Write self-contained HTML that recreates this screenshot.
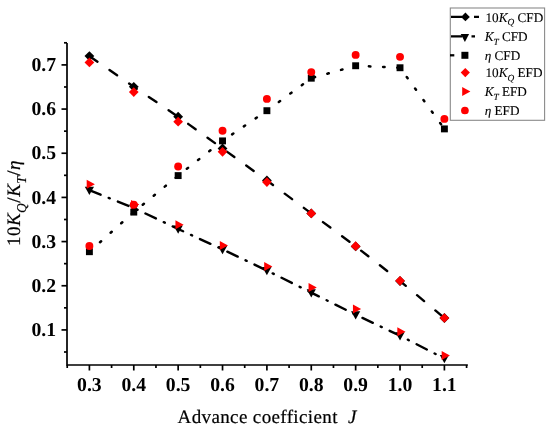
<!DOCTYPE html>
<html><head><meta charset="utf-8"><title>Chart</title>
<style>html,body{margin:0;padding:0;background:#fff;}svg{display:block;}text{text-rendering:geometricPrecision;}</style></head>
<body><svg width="550" height="430" viewBox="0 0 550 430">
<rect width="550" height="430" fill="#fff"/>
<g stroke="#000" stroke-width="1.7" fill="none" stroke-linecap="butt">
<path d="M67.0 43.0V365.85M66.15 365.0H467.85"/>
<path d="M67.0 329.92H61.5"/>
<path d="M67.0 285.75H61.5"/>
<path d="M67.0 241.58H61.5"/>
<path d="M67.0 197.41H61.5"/>
<path d="M67.0 153.24H61.5"/>
<path d="M67.0 109.07H61.5"/>
<path d="M67.0 64.9H61.5"/>
<path d="M67.0 352H64.0"/>
<path d="M67.0 307.83H64.0"/>
<path d="M67.0 263.66H64.0"/>
<path d="M67.0 219.5H64.0"/>
<path d="M67.0 175.32H64.0"/>
<path d="M67.0 131.15H64.0"/>
<path d="M67.0 86.98H64.0"/>
<path d="M67.0 42.81H64.0"/>
<path d="M89.4 365.0V370.5"/>
<path d="M133.78 365.0V370.5"/>
<path d="M178.15 365.0V370.5"/>
<path d="M222.53 365.0V370.5"/>
<path d="M266.9 365.0V370.5"/>
<path d="M311.27 365.0V370.5"/>
<path d="M355.65 365.0V370.5"/>
<path d="M400.02 365.0V370.5"/>
<path d="M444.4 365.0V370.5"/>
<path d="M67.21 365.0V368.0"/>
<path d="M111.59 365.0V368.0"/>
<path d="M155.96 365.0V368.0"/>
<path d="M200.34 365.0V368.0"/>
<path d="M244.71 365.0V368.0"/>
<path d="M289.09 365.0V368.0"/>
<path d="M333.46 365.0V368.0"/>
<path d="M377.84 365.0V368.0"/>
<path d="M422.21 365.0V368.0"/>
<path d="M466.59 365.0V368.0"/>
</g>
<g font-family="Liberation Serif, serif" font-weight="bold" font-size="19.7" fill="#000">
<text x="56" y="336.12" text-anchor="end">0.1</text>
<text x="56" y="291.95" text-anchor="end">0.2</text>
<text x="56" y="247.78" text-anchor="end">0.3</text>
<text x="56" y="203.61" text-anchor="end">0.4</text>
<text x="56" y="159.44" text-anchor="end">0.5</text>
<text x="56" y="115.27" text-anchor="end">0.6</text>
<text x="56" y="71.1" text-anchor="end">0.7</text>
<text x="89.4" y="391.2" text-anchor="middle">0.3</text>
<text x="133.78" y="391.2" text-anchor="middle">0.4</text>
<text x="178.15" y="391.2" text-anchor="middle">0.5</text>
<text x="222.53" y="391.2" text-anchor="middle">0.6</text>
<text x="266.9" y="391.2" text-anchor="middle">0.7</text>
<text x="311.27" y="391.2" text-anchor="middle">0.8</text>
<text x="355.65" y="391.2" text-anchor="middle">0.9</text>
<text x="400.02" y="391.2" text-anchor="middle">1.0</text>
<text x="444.4" y="391.2" text-anchor="middle">1.1</text>
</g>
<text x="177.6" y="423.3" font-family="Liberation Serif, serif" font-size="19" letter-spacing="0.37" fill="#000" stroke="#000" stroke-width="0.2">Advance coefficient&#160;&#160;<tspan font-style="italic">J</tspan></text>
<text transform="translate(20.3 203) rotate(-90)" text-anchor="middle" font-family="Liberation Serif, serif" font-size="19" letter-spacing="0.5" fill="#000" stroke="#000" stroke-width="0.2">10<tspan font-style="italic">K</tspan><tspan font-style="italic" font-size="13.5" dy="5.2">Q</tspan><tspan dy="-5.2">/</tspan><tspan font-style="italic">K</tspan><tspan font-style="italic" font-size="13.5" dy="5.2">T</tspan><tspan dy="-5.2">/</tspan><tspan font-style="italic">η</tspan></text>
<polyline points="89.4,56.1 133.78,86.8 178.15,116.7 222.53,148.5 266.9,180.4 311.27,213.4 355.65,246.4 400.02,281 444.4,318" fill="none" stroke="#000" stroke-width="2.4" stroke-linecap="round" stroke-linejoin="round" stroke-dasharray="9.2 14.63" stroke-dashoffset="-0.62"/>
<polyline points="89.4,190.2 133.78,208 178.15,229 222.53,249.4 266.9,270.5 311.27,292.6 355.65,314.7 400.02,335.7 444.4,358.5" fill="none" stroke="#000" stroke-width="2.4" stroke-linecap="round" stroke-linejoin="round" stroke-dasharray="11.5 8.7 1.2 8.7" stroke-dashoffset="-0.55"/>
<polyline points="89.4,251.7 133.78,212.1 178.15,175.6 222.53,140.9 266.9,110.7 311.27,78.2 355.65,65.75 400.02,67.75 444.4,128.9" fill="none" stroke="#000" stroke-width="2.5" stroke-linecap="round" stroke-linejoin="round" stroke-dasharray="1.5 12.72" stroke-dashoffset="0"/>
<path d="M89.4 51.2L94.3 56.1L89.4 61L84.5 56.1Z" fill="#000"/>
<path d="M133.78 81.9L138.68 86.8L133.78 91.7L128.88 86.8Z" fill="#000"/>
<path d="M178.15 111.8L183.05 116.7L178.15 121.6L173.25 116.7Z" fill="#000"/>
<path d="M222.53 143.6L227.43 148.5L222.53 153.4L217.62 148.5Z" fill="#000"/>
<path d="M266.9 175.5L271.8 180.4L266.9 185.3L262 180.4Z" fill="#000"/>
<path d="M311.27 208.5L316.17 213.4L311.27 218.3L306.38 213.4Z" fill="#000"/>
<path d="M355.65 241.5L360.55 246.4L355.65 251.3L350.75 246.4Z" fill="#000"/>
<path d="M400.02 276.1L404.92 281L400.02 285.9L395.12 281Z" fill="#000"/>
<path d="M444.4 313.1L449.3 318L444.4 322.9L439.5 318Z" fill="#000"/>
<path d="M84.8 186.8L94 186.8L89.4 195Z" fill="#000"/>
<path d="M129.18 204.6L138.38 204.6L133.78 212.8Z" fill="#000"/>
<path d="M173.55 225.6L182.75 225.6L178.15 233.8Z" fill="#000"/>
<path d="M217.93 246L227.12 246L222.53 254.2Z" fill="#000"/>
<path d="M262.3 267.1L271.5 267.1L266.9 275.3Z" fill="#000"/>
<path d="M306.67 289.2L315.88 289.2L311.27 297.4Z" fill="#000"/>
<path d="M351.05 311.3L360.25 311.3L355.65 319.5Z" fill="#000"/>
<path d="M395.42 332.3L404.62 332.3L400.02 340.5Z" fill="#000"/>
<path d="M439.8 355.1L449 355.1L444.4 363.3Z" fill="#000"/>
<rect x="85.95" y="248.25" width="6.9" height="6.9" fill="#000"/>
<rect x="130.33" y="208.65" width="6.9" height="6.9" fill="#000"/>
<rect x="174.7" y="172.15" width="6.9" height="6.9" fill="#000"/>
<rect x="219.08" y="137.45" width="6.9" height="6.9" fill="#000"/>
<rect x="263.45" y="107.25" width="6.9" height="6.9" fill="#000"/>
<rect x="307.82" y="74.75" width="6.9" height="6.9" fill="#000"/>
<rect x="352.2" y="62.3" width="6.9" height="6.9" fill="#000"/>
<rect x="396.57" y="64.3" width="6.9" height="6.9" fill="#000"/>
<rect x="440.95" y="125.45" width="6.9" height="6.9" fill="#000"/>
<path d="M89.4 57.55L94.25 62.4L89.4 67.25L84.55 62.4Z" fill="#f00"/>
<path d="M133.78 87.25L138.63 92.1L133.78 96.95L128.93 92.1Z" fill="#f00"/>
<path d="M178.15 116.8L183 121.65L178.15 126.5L173.3 121.65Z" fill="#f00"/>
<path d="M222.53 146.95L227.38 151.8L222.53 156.65L217.68 151.8Z" fill="#f00"/>
<path d="M266.9 177.25L271.75 182.1L266.9 186.95L262.05 182.1Z" fill="#f00"/>
<path d="M311.27 208.55L316.12 213.4L311.27 218.25L306.42 213.4Z" fill="#f00"/>
<path d="M355.65 241.35L360.5 246.2L355.65 251.05L350.8 246.2Z" fill="#f00"/>
<path d="M400.02 275.95L404.88 280.8L400.02 285.65L395.17 280.8Z" fill="#f00"/>
<path d="M444.4 313.15L449.25 318L444.4 322.85L439.55 318Z" fill="#f00"/>
<path d="M86.7 179.8L94.9 184.3L86.7 188.8Z" fill="#f00"/>
<path d="M131.08 200L139.28 204.5L131.08 209Z" fill="#f00"/>
<path d="M175.45 220.2L183.65 224.7L175.45 229.2Z" fill="#f00"/>
<path d="M219.83 241.1L228.03 245.6L219.83 250.1Z" fill="#f00"/>
<path d="M264.2 262L272.4 266.5L264.2 271Z" fill="#f00"/>
<path d="M308.57 283L316.77 287.5L308.57 292Z" fill="#f00"/>
<path d="M352.95 304.5L361.15 309L352.95 313.5Z" fill="#f00"/>
<path d="M397.32 327.2L405.52 331.7L397.32 336.2Z" fill="#f00"/>
<path d="M441.7 350.9L449.9 355.4L441.7 359.9Z" fill="#f00"/>
<circle cx="89.4" cy="246" r="3.95" fill="#f00"/>
<circle cx="133.78" cy="204.7" r="3.95" fill="#f00"/>
<circle cx="178.15" cy="166.5" r="3.95" fill="#f00"/>
<circle cx="222.53" cy="130.8" r="3.95" fill="#f00"/>
<circle cx="266.9" cy="98.9" r="3.95" fill="#f00"/>
<circle cx="311.27" cy="72.1" r="3.95" fill="#f00"/>
<circle cx="355.65" cy="54.9" r="3.95" fill="#f00"/>
<circle cx="400.02" cy="56.85" r="3.95" fill="#f00"/>
<circle cx="444.4" cy="118.9" r="3.95" fill="#f00"/>
<rect x="450.3" y="8" width="94.3" height="112.3" fill="#fff" stroke="#8a8a8a" stroke-width="1.1"/>
<path d="M451 16.9H462M474 16.9H479" stroke="#000" stroke-width="2.3"/>
<path d="M465.4 12.5L469.8 16.9L465.4 21.3L461 16.9Z" fill="#000"/>
<path d="M451 36.4H462M471.5 36.4H475" stroke="#000" stroke-width="2.3"/>
<path d="M460.7 34L469.1 34L464.9 41.9Z" fill="#000"/>
<path d="M450 55.3H454.3" stroke="#000" stroke-width="2.3"/>
<rect x="461.4" y="51.8" width="7" height="7" fill="#000"/>
<path d="M465.3 68L469.9 72.6L465.3 77.2L460.7 72.6Z" fill="#f00"/>
<path d="M462.2 87L470.4 91.5L462.2 96Z" fill="#f00"/>
<circle cx="464.9" cy="110.5" r="3.85" fill="#f00"/>
<g font-family="Liberation Serif, serif" font-size="13.2" fill="#000" stroke="#000" stroke-width="0.12">
<text x="485.5" y="21.5">10<tspan font-style="italic">K</tspan><tspan font-size="9.3" dy="3.8" font-style="italic">Q</tspan><tspan dy="-3.8"> CFD</tspan></text>
<text x="484.7" y="41"><tspan font-style="italic">K</tspan><tspan font-size="9.3" dy="3.8" font-style="italic">T</tspan><tspan dy="-3.8"> CFD</tspan></text>
<text x="484.7" y="59.9"><tspan font-style="italic">η</tspan> CFD</text>
<text x="485.5" y="77.2">10<tspan font-style="italic">K</tspan><tspan font-size="9.3" dy="3.8" font-style="italic">Q</tspan><tspan dy="-3.8"> EFD</tspan></text>
<text x="484.7" y="96.1"><tspan font-style="italic">K</tspan><tspan font-size="9.3" dy="3.8" font-style="italic">T</tspan><tspan dy="-3.8"> EFD</tspan></text>
<text x="484.7" y="115.1"><tspan font-style="italic">η</tspan> EFD</text>
</g>
</svg></body></html>
